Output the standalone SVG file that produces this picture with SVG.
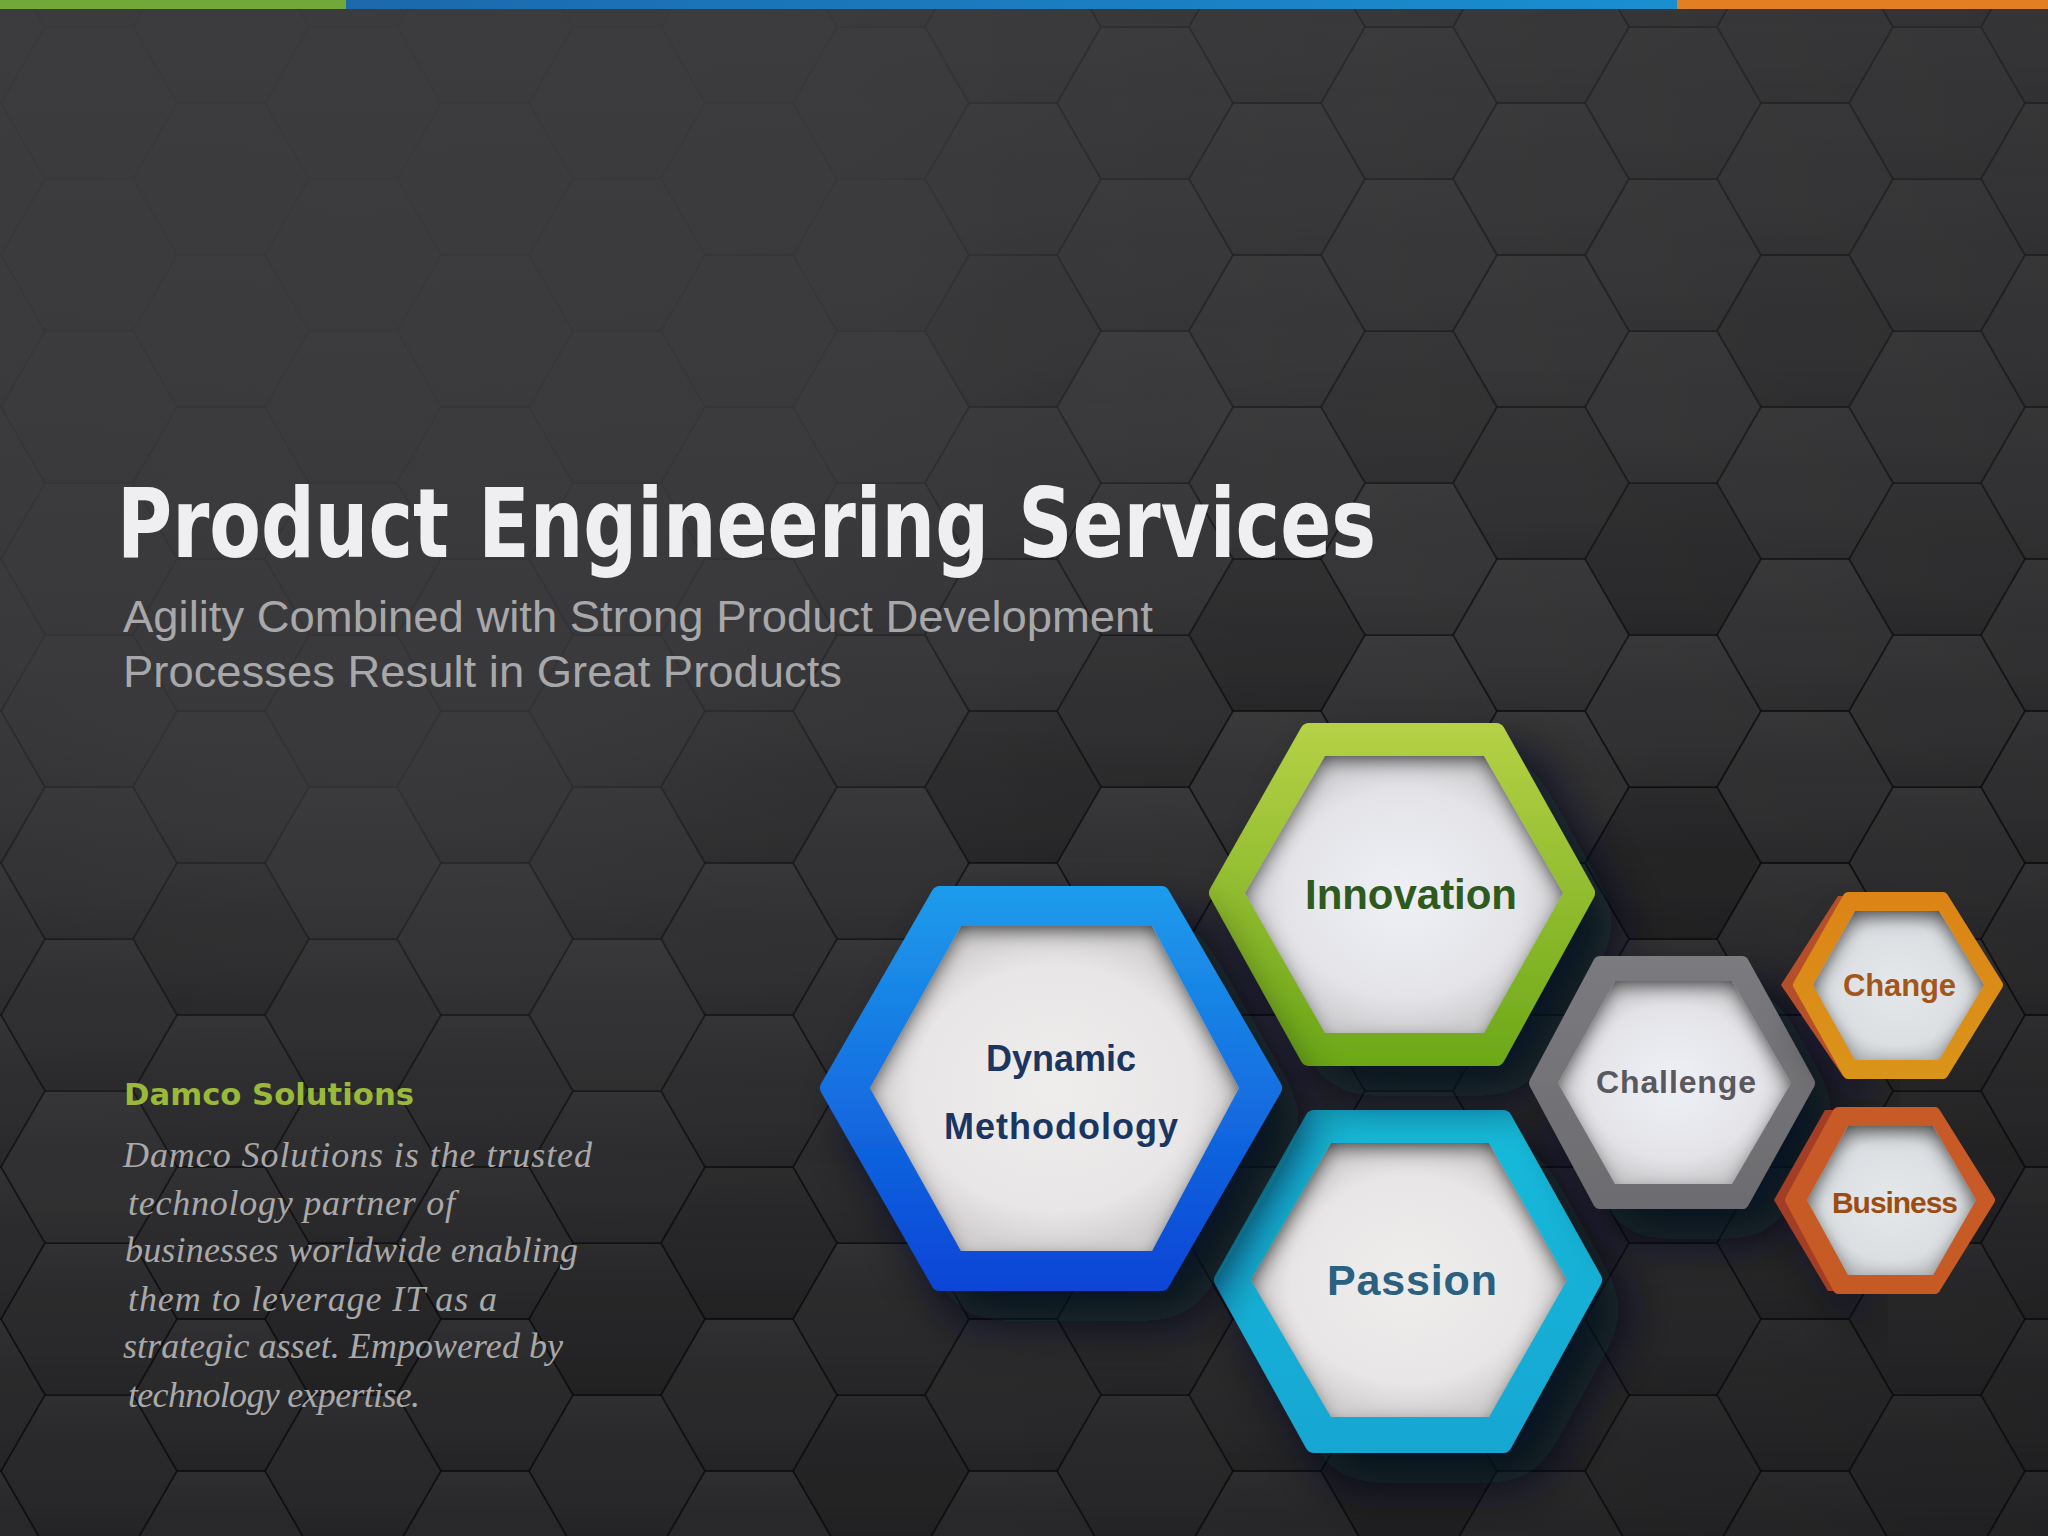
<svg xmlns="http://www.w3.org/2000/svg" xmlns:xlink="http://www.w3.org/1999/xlink" width="2048" height="1536" viewBox="0 0 2048 1536">
<defs>
<linearGradient id="bg" x1="0" y1="0" x2="0" y2="1"><stop offset="0" stop-color="#3c3c3e"/><stop offset=".4" stop-color="#39393b"/><stop offset=".7" stop-color="#2d2d2f"/><stop offset="1" stop-color="#272729"/></linearGradient>
<linearGradient id="veil" x1="0" y1="0" x2="0" y2="1"><stop offset="0" stop-color="#3c3c3e" stop-opacity=".6"/><stop offset=".3" stop-color="#3b3b3d" stop-opacity=".3"/><stop offset=".5" stop-color="#343436" stop-opacity="0"/></linearGradient>
<radialGradient id="veilL" gradientUnits="userSpaceOnUse" cx="350" cy="250" r="1050"><stop offset="0" stop-color="#3b3b3d" stop-opacity=".88"/><stop offset=".5" stop-color="#3a3a3c" stop-opacity=".8"/><stop offset=".72" stop-color="#333335" stop-opacity=".3"/><stop offset="1" stop-color="#2e2e30" stop-opacity="0"/></radialGradient>
<linearGradient id="veilR" x1="0" y1="0" x2="1" y2="0"><stop offset=".45" stop-color="#000" stop-opacity="0"/><stop offset="1" stop-color="#000" stop-opacity=".14"/></linearGradient>
<linearGradient id="cell" x1="0" y1="0" x2="0" y2="1"><stop offset="0" stop-color="#fff" stop-opacity=".03"/><stop offset=".7" stop-color="#000" stop-opacity="0"/><stop offset="1" stop-color="#000" stop-opacity=".1"/></linearGradient>
<polygon id="hex" points="-88,0 -44,-76 44,-76 88,0 44,76 -44,76"/>
<pattern id="cells" patternUnits="userSpaceOnUse" width="264" height="152" patternTransform="translate(1013 787)">
<g fill="url(#cell)" stroke="#08080a" stroke-opacity=".5" stroke-width="1.8">
<use href="#hex" x="0" y="0"/><use href="#hex" x="264" y="0"/><use href="#hex" x="0" y="152"/><use href="#hex" x="264" y="152"/><use href="#hex" x="132" y="76"/><use href="#hex" x="132" y="-76"/>
</g>
</pattern>
<linearGradient id="gBar" x1="0" y1="0" x2="1" y2="0"><stop offset="0" stop-color="#1c68ac"/><stop offset="1" stop-color="#1a8fd0"/></linearGradient>
<linearGradient id="gBlue" gradientUnits="userSpaceOnUse" x1="0" y1="886" x2="0" y2="1291"><stop offset="0" stop-color="#1e9cec"/><stop offset="1" stop-color="#0a44d6"/></linearGradient>
<linearGradient id="gGreen" gradientUnits="userSpaceOnUse" x1="0" y1="723" x2="0" y2="1066"><stop offset="0" stop-color="#b6d146"/><stop offset="1" stop-color="#6ca818"/></linearGradient>
<linearGradient id="gCyan" gradientUnits="userSpaceOnUse" x1="0" y1="1110" x2="0" y2="1453"><stop offset="0" stop-color="#15bcdc"/><stop offset="1" stop-color="#14a6d2"/></linearGradient>
<linearGradient id="gGrey" gradientUnits="userSpaceOnUse" x1="0" y1="956" x2="0" y2="1209"><stop offset="0" stop-color="#7b7b7f"/><stop offset="1" stop-color="#6c6c70"/></linearGradient>
<linearGradient id="gOrange" gradientUnits="userSpaceOnUse" x1="0" y1="893" x2="0" y2="1078"><stop offset="0" stop-color="#dc8416"/><stop offset="1" stop-color="#da941a"/></linearGradient>
<linearGradient id="gRust" gradientUnits="userSpaceOnUse" x1="0" y1="1108" x2="0" y2="1293"><stop offset="0" stop-color="#c85a28"/><stop offset="1" stop-color="#c65a24"/></linearGradient>
<radialGradient id="gFace"><stop offset="0" stop-color="#efedec"/><stop offset=".75" stop-color="#e8e6e6"/><stop offset="1" stop-color="#d2d0d0"/></radialGradient>
<radialGradient id="gFaceC"><stop offset="0" stop-color="#eef0f6"/><stop offset=".75" stop-color="#e4e4e8"/><stop offset="1" stop-color="#cfcfd2"/></radialGradient>
<radialGradient id="gFaceS"><stop offset="0" stop-color="#e4e8ea"/><stop offset=".8" stop-color="#dcdfe2"/><stop offset="1" stop-color="#c8cbce"/></radialGradient>
<filter id="drop" x="-30%" y="-30%" width="180%" height="180%"><feDropShadow dx="26" dy="30" stdDeviation="26" flood-color="#03101a" flood-opacity=".85"/></filter>
<filter id="inset" x="-5%" y="-5%" width="110%" height="110%">
<feGaussianBlur in="SourceAlpha" stdDeviation="9" result="b"/><feOffset in="b" dy="7" result="o"/>
<feFlood flood-color="#2e2e30" result="f"/><feComposite in="f" in2="o" operator="out" result="s"/><feComposite in="s" in2="SourceAlpha" operator="in" result="si"/>
<feMerge><feMergeNode in="SourceGraphic"/><feMergeNode in="si"/></feMerge>
</filter>
</defs>
<style>
.lab{font-family:"Liberation Sans",Arial,sans-serif;font-weight:700}
.body{font-family:"Liberation Serif","Times New Roman",serif;font-style:italic;font-size:36px;fill:#a9a9a9}
.sub{font-family:"Liberation Sans",Arial,sans-serif;font-size:44px;fill:#a8a8aa}
.title{font-family:"DejaVu Sans",sans-serif;font-weight:700;font-size:96px;fill:#efeef0}
.ring{stroke-linejoin:round}
.d1{fill:#000;fill-opacity:.1}
.d2{fill:#000;fill-opacity:.2}
.l1{fill:#fff;fill-opacity:.025}
</style>
<g id="background">
<rect width="2048" height="1536" fill="url(#bg)"/>
<rect width="2048" height="1536" fill="url(#cells)"/>
<g>
<use href="#hex" x="1673" y="559" class="d2"/><use href="#hex" x="1277" y="635" class="d2"/><use href="#hex" x="1805" y="331" class="d1"/><use href="#hex" x="1409" y="407" class="d1"/>
<use href="#hex" x="1541" y="483" class="d1"/><use href="#hex" x="1013" y="331" class="d1"/><use href="#hex" x="881" y="407" class="l1"/><use href="#hex" x="749" y="787" class="d1"/>
<use href="#hex" x="353" y="863" class="l1"/><use href="#hex" x="485" y="939" class="l1"/><use href="#hex" x="617" y="1015" class="l1"/><use href="#hex" x="221" y="939" class="d1"/>
<use href="#hex" x="749" y="1243" class="d1"/><use href="#hex" x="1145" y="711" class="d1"/><use href="#hex" x="1013" y="787" class="d2"/><use href="#hex" x="1673" y="863" class="d2"/>
<use href="#hex" x="1937" y="1167" class="d1"/><use href="#hex" x="1409" y="1471" class="d1"/><use href="#hex" x="881" y="1471" class="d1"/><use href="#hex" x="1937" y="559" class="d1"/>
<use href="#hex" x="89" y="1167" class="l1"/><use href="#hex" x="353" y="1319" class="d1"/><use href="#hex" x="617" y="1319" class="d1"/><use href="#hex" x="1145" y="407" class="l1"/>
</g>
<rect width="2048" height="1536" fill="url(#veilL)"/>
<rect width="2048" height="1536" fill="url(#veil)"/>
<rect width="2048" height="1536" fill="url(#veilR)"/>
</g>
<g id="topbar">
<rect x="0" y="0" width="346" height="9" fill="#72a83a"/>
<rect x="346" y="0" width="1331" height="9" fill="url(#gBar)"/>
<rect x="1677" y="0" width="371" height="9" fill="#e27f22"/>
</g>
<g id="title-block">
<text class="title" x="117" y="557" word-spacing="4" textLength="1259" lengthAdjust="spacingAndGlyphs">Product Engineering Services</text>
<text class="sub" x="123" y="632" textLength="1030" lengthAdjust="spacingAndGlyphs">Agility Combined with Strong Product Development</text>
<text class="sub" x="123" y="687" textLength="719" lengthAdjust="spacingAndGlyphs">Processes Result in Great Products</text>
</g>
<g id="about-block">
<text x="124" y="1105" font-family="'DejaVu Sans',sans-serif" font-weight="700" font-size="30" fill="#9ab83a" textLength="290" lengthAdjust="spacingAndGlyphs">Damco Solutions</text>
<text class="body" x="123" y="1167" textLength="469" lengthAdjust="spacing">Damco Solutions is the trusted</text>
<text class="body" x="128" y="1215" textLength="327" lengthAdjust="spacing">technology partner of</text>
<text class="body" x="125" y="1262" textLength="453" lengthAdjust="spacing">businesses worldwide enabling</text>
<text class="body" x="128" y="1311" textLength="369" lengthAdjust="spacing">them to leverage IT as a</text>
<text class="body" x="123" y="1358" textLength="440" lengthAdjust="spacing">strategic asset. Empowered by</text>
<text class="body" x="128" y="1407" textLength="292" lengthAdjust="spacing">technology expertise.</text>
</g>
<g id="node-passion">
<polygon class="ring" filter="url(#drop)" points="1223,1280 1314,1119 1503,1119 1593,1280 1503,1444 1314,1444" fill="url(#gCyan)" stroke="url(#gCyan)" stroke-width="18"/>
<polygon filter="url(#inset)" points="1251,1280 1331,1143 1489,1143 1567,1280 1489,1417 1331,1417" fill="url(#gFace)"/>
<text class="lab" x="1327" y="1295" font-size="43" fill="#2a6080" textLength="170" lengthAdjust="spacing">Passion</text>
</g>
<g id="node-innovation">
<polygon class="ring" filter="url(#drop)" points="1218,893 1309,732 1496,732 1586,893 1496,1057 1309,1057" fill="url(#gGreen)" stroke="url(#gGreen)" stroke-width="18"/>
<polygon filter="url(#inset)" points="1245,893 1325,756 1484,756 1563,893 1484,1033 1325,1033" fill="url(#gFaceC)"/>
<text class="lab" x="1305" y="909" font-size="42" fill="#2f5a1e" textLength="212" lengthAdjust="spacing">Innovation</text>
</g>
<g id="node-dynamic-methodology">
<polygon class="ring" filter="url(#drop)" points="829,1088 940,895 1161,895 1273,1088 1161,1282 940,1282" fill="url(#gBlue)" stroke="url(#gBlue)" stroke-width="18"/>
<polygon filter="url(#inset)" points="870,1088 961,926 1152,926 1239,1088 1152,1251 961,1251" fill="url(#gFace)"/>
<text class="lab" x="986" y="1071" font-size="36" fill="#1b3561" textLength="150" lengthAdjust="spacing">Dynamic</text>
<text class="lab" x="944" y="1139" font-size="36" fill="#1b3561" textLength="234" lengthAdjust="spacing">Methodology</text>
</g>
<g id="node-challenge">
<polygon class="ring" filter="url(#drop)" points="1536,1083 1600,963 1742,963 1808,1083 1742,1202 1600,1202" fill="url(#gGrey)" stroke="url(#gGrey)" stroke-width="14"/>
<polygon filter="url(#inset)" points="1558,1083 1615,981 1732,981 1791,1083 1732,1184 1615,1184" fill="url(#gFaceC)"/>
<text class="lab" x="1596" y="1093" font-size="32" fill="#58585e" textLength="160" lengthAdjust="spacing">Challenge</text>
</g>
<g id="node-change">
<polygon filter="url(#drop)" points="1781,985 1838,896 1860,896 1810,985 1860,1076 1843,1076" fill="#b5502a"/>
<polygon class="ring" points="1798,985 1848,897 1943,897 1998,985 1943,1074 1848,1074" fill="url(#gOrange)" stroke="url(#gOrange)" stroke-width="10"/>
<polygon filter="url(#inset)" points="1813,985 1855,911 1939,911 1984,985 1939,1060 1855,1060" fill="url(#gFaceS)"/>
<text class="lab" x="1843" y="996" font-size="31" fill="#a4561a" textLength="113" lengthAdjust="spacing">Change</text>
</g>
<g id="node-business">
<polygon filter="url(#drop)" points="1774,1200 1825,1110 1850,1110 1800,1200 1850,1291 1828,1291" fill="#a33c28"/>
<polygon class="ring" points="1790,1200 1838,1112 1935,1112 1990,1200 1935,1289 1838,1289" fill="url(#gRust)" stroke="url(#gRust)" stroke-width="10"/>
<polygon filter="url(#inset)" points="1807,1200 1848,1126 1933,1126 1976,1200 1933,1275 1848,1275" fill="url(#gFaceS)"/>
<text class="lab" x="1832" y="1213" font-size="30" fill="#9c4c10" textLength="126" lengthAdjust="spacing">Business</text>
</g>
</svg>
